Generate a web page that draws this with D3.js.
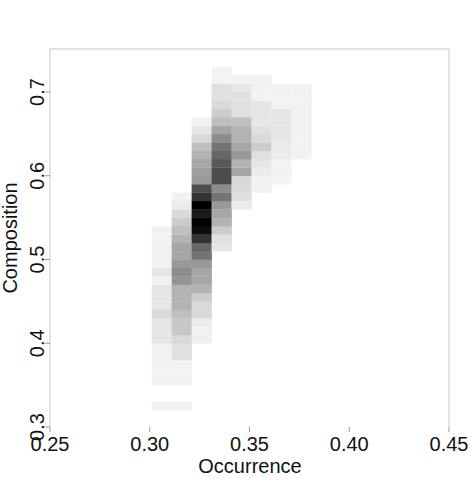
<!DOCTYPE html>
<html><head><meta charset="utf-8">
<script src="https://cdn.jsdelivr.net/npm/d3@7"></script>
<style>body{margin:0;background:#fff}svg{display:block}text{font-family:"Liberation Sans",Arial,sans-serif;fill:#111}</style>
</head><body><svg id="c" width="474" height="488"></svg>
<script>
// column lower x edges (bin width 0.01)
const xBins = [0.301, 0.311, 0.321, 0.331, 0.341, 0.351, 0.361, 0.371];
// lowest row (lower y edge) per column, bin height 0.01
const yStart = [0.32, 0.32, 0.40, 0.51, 0.56, 0.58, 0.59, 0.62];
// densities listed from the lowest row upward (0 = empty)
const col0 = [0.05,0,0,0.05,0.05,0.05,0.05,0.05,0.1,0.1,0.1,0.15,0.1,0.1,0.1,0.05,0.1,0.05,0.05,0.05,0.05,0.05];
const col1 = [0.05,0,0,0.05,0.05,0.05,0.12,0.12,0.15,0.22,0.22,0.25,0.3,0.3,0.3,0.42,0.45,0.4,0.35,0.35,0.3,0.25,0.2,0.15,0.08,0.05];
const col2 = [0.06,0.06,0.08,0.15,0.15,0.2,0.3,0.35,0.35,0.4,0.55,0.6,0.8,0.95,1.0,0.9,1.0,0.8,0.7,0.4,0.38,0.35,0.3,0.25,0.15,0.1,0.05];
const col3 = [0.1,0.12,0.2,0.3,0.35,0.4,0.55,0.45,0.7,0.7,0.65,0.6,0.55,0.45,0.35,0.25,0.2,0.15,0.12,0.12,0.05,0.05];
const col4 = [0.08,0.12,0.15,0.15,0.35,0.3,0.4,0.35,0.3,0.3,0.25,0.12,0.12,0.12,0.1,0.05];
const col5 = [0.05,0.05,0.08,0.1,0.12,0.2,0.15,0.12,0.1,0.1,0.1,0.05,0.05,0.05];
const col6 = [0.04,0.05,0.05,0.08,0.08,0.1,0.1,0.1,0.1,0.05,0.05,0.05];
const col7 = [0.05,0.05,0.05,0.05,0.05,0.05,0.05,0.05,0.05];
const columns = [col0,col1,col2,col3,col4,col5,col6,col7];
const xTicks = [0.25,0.30,0.35,0.40,0.45];
const yTicks = [0.3,0.4,0.5,0.6,0.7];
const binW = 0.01, binH = 0.01;

const svg = d3.select("#c");
const x = d3.scaleLinear().domain([0.25,0.45]).range([50,449]);
const y = d3.scaleLinear().domain([0.3,0.7]).range([427,92]);

const cells = [];
columns.forEach((vals,i)=>vals.forEach((d,j)=>{ if(d>0) cells.push({x:xBins[i], y:yStart[i]+j*binH, d}); }));
svg.append("g").selectAll("rect").data(cells).join("rect")
  .attr("x",d=>x(d.x)).attr("width",d=>x(d.x+binW)-x(d.x)+0.3)
  .attr("y",d=>y(d.y+binH)).attr("height",d=>y(d.y)-y(d.y+binH)+0.3)
  .attr("fill",d=>{const g=Math.round(255*(1-d.d));return `rgb(${g},${g},${g})`;});

// frame
const frameTop = 49, frameBottom = 427;
svg.append("line").attr("x1",50).attr("x2",449).attr("y1",frameTop).attr("y2",frameTop).attr("stroke","#c8c8c8");
svg.append("line").attr("x1",50).attr("x2",50).attr("y1",frameTop).attr("y2",frameBottom).attr("stroke","#c8c8c8");
svg.append("line").attr("x1",449).attr("x2",449).attr("y1",frameTop).attr("y2",frameBottom).attr("stroke","#c8c8c8");

// x axis
const xa = svg.append("g");
xTicks.forEach(t=>{
  xa.append("line").attr("x1",x(t)).attr("x2",x(t)).attr("y1",frameBottom).attr("y2",frameBottom+5).attr("stroke","#999");
  xa.append("text").attr("x",x(t)).attr("y",451).attr("text-anchor","middle").attr("font-size",20).text(t.toFixed(2));
});
svg.append("text").attr("x",250).attr("y",473).attr("text-anchor","middle").attr("font-size",20).text("Occurrence");

// y axis
const ya = svg.append("g");
yTicks.forEach(t=>{
  ya.append("line").attr("x1",45).attr("x2",50).attr("y1",y(t)).attr("y2",y(t)).attr("stroke","#999");
  ya.append("text").attr("transform",`translate(44,${y(t)}) rotate(-90)`).attr("text-anchor","middle").attr("font-size",20).text(t.toFixed(1));
});
svg.append("text").attr("transform","translate(17,238) rotate(-90)").attr("text-anchor","middle").attr("font-size",20).text("Composition");
</script></body></html>
